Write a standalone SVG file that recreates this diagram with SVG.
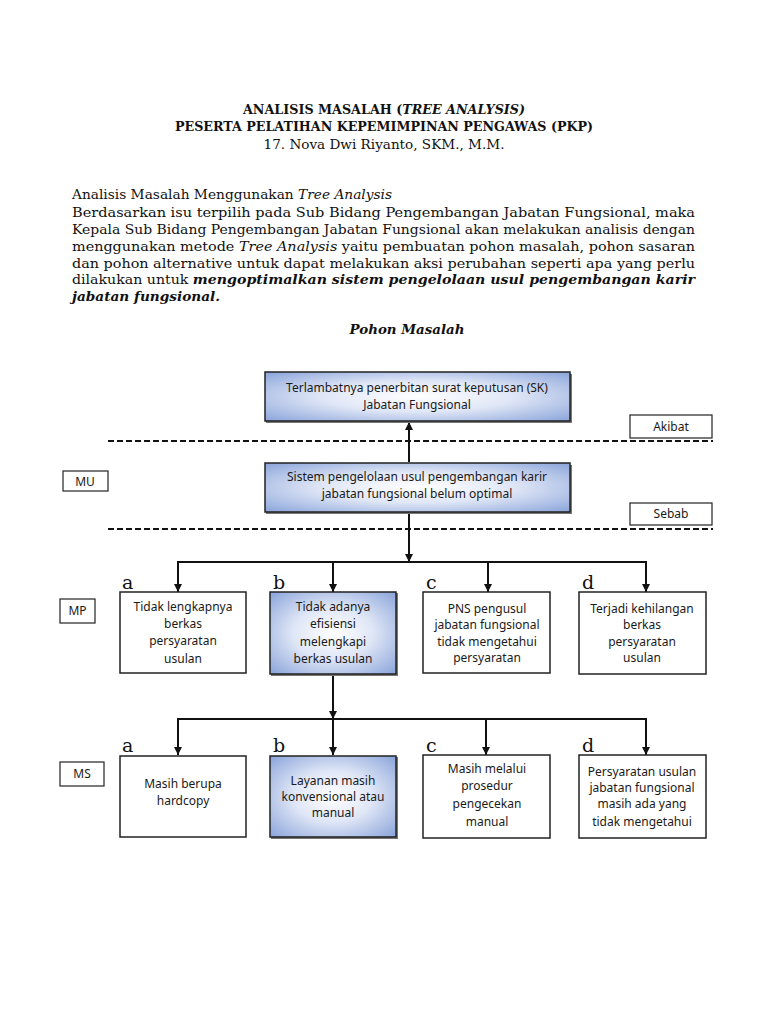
<svg xmlns="http://www.w3.org/2000/svg" width="768" height="1024" viewBox="0 0 768 1024">
<style>
.t{font-family:"DejaVu Serif","Liberation Serif",serif;fill:#111}
.tb{font-weight:bold}
.it{font-style:italic}
.bx{font-family:"Noto Sans","Open Sans",sans-serif;font-size:12px;fill:#1a1a1a;text-anchor:middle}
.lt{font-family:"DejaVu Serif","Liberation Serif",serif;font-size:19px;fill:#111}
.plain{fill:#fff;stroke:#222;stroke-width:1.5}
.grad{fill:url(#g);stroke:#222;stroke-width:1.5}
.sh{fill:#777}
.lab{fill:#fff;stroke:#222;stroke-width:1.2}
.ln{stroke:#111;stroke-width:2;fill:none}
.dash{stroke:#111;stroke-width:2;stroke-dasharray:6 3;fill:none}
</style>
<defs>
<radialGradient id="g" cx="0.5" cy="0.5" r="0.7">
<stop offset="0" stop-color="#ffffff"/>
<stop offset="0.45" stop-color="#dfe6f6"/>
<stop offset="1" stop-color="#8aa4da"/>
</radialGradient>
<marker id="ah" viewBox="0 0 10 10" refX="10" refY="5" markerWidth="4" markerHeight="4" orient="auto" markerUnits="strokeWidth">
<path d="M0,0 L10,5 L0,10 z" fill="#111"/>
</marker>
</defs>
<rect width="768" height="1024" fill="#fff"/>

<g id="header">
<text class="t tb" x="384" y="114" font-size="13" text-anchor="middle" textLength="282" lengthAdjust="spacingAndGlyphs">ANALISIS MASALAH (<tspan class="it">TREE ANALYSIS)</tspan></text>
<text class="t tb" x="384" y="131" font-size="13" text-anchor="middle" textLength="418" lengthAdjust="spacingAndGlyphs">PESERTA PELATIHAN KEPEMIMPINAN PENGAWAS (PKP)</text>
<text class="t" x="384" y="149" font-size="13" text-anchor="middle" textLength="241" lengthAdjust="spacingAndGlyphs">17. Nova Dwi Riyanto, SKM., M.M.</text>
</g>

<g id="body">
<text class="t" x="72" y="199" font-size="13" textLength="320" lengthAdjust="spacingAndGlyphs">Analisis Masalah Menggunakan <tspan class="it">Tree Analysis</tspan></text>
<text class="t" x="72" y="217" font-size="13" textLength="623" lengthAdjust="spacingAndGlyphs">Berdasarkan isu terpilih pada Sub Bidang Pengembangan Jabatan Fungsional, maka</text>
<text class="t" x="72" y="234" font-size="13" textLength="623" lengthAdjust="spacingAndGlyphs">Kepala Sub Bidang Pengembangan Jabatan Fungsional akan melakukan analisis dengan</text>
<text class="t" x="72" y="251" font-size="13" textLength="623" lengthAdjust="spacingAndGlyphs">menggunakan metode <tspan class="it">Tree Analysis</tspan> yaitu pembuatan pohon masalah, pohon sasaran</text>
<text class="t" x="72" y="268" font-size="13" textLength="623" lengthAdjust="spacingAndGlyphs">dan pohon alternative untuk dapat melakukan aksi perubahan seperti apa yang perlu</text>
<text class="t" x="72" y="284" font-size="13" textLength="623" lengthAdjust="spacingAndGlyphs">dilakukan untuk <tspan class="tb it">mengoptimalkan sistem pengelolaan usul pengembangan karir</tspan></text>
<text class="t tb it" x="72" y="301" font-size="13" textLength="148" lengthAdjust="spacingAndGlyphs">jabatan fungsional.</text>
<text class="t tb it" x="407" y="334" font-size="13" text-anchor="middle" textLength="115" lengthAdjust="spacingAndGlyphs">Pohon Masalah</text>
</g>

<g id="connectors">
<line class="dash" x1="108" y1="441" x2="713" y2="441"/>
<line class="dash" x1="108" y1="529" x2="713" y2="529"/>
<line class="ln" x1="409" y1="462" x2="409" y2="422" marker-end="url(#ah)"/>
<line class="ln" x1="409" y1="513" x2="409" y2="562" marker-end="url(#ah)"/>
<polyline class="ln" points="178,592 178,562 646,562 646,592" marker-end="url(#ah)"/>
<line class="ln" x1="178" y1="563" x2="178" y2="592" marker-end="url(#ah)"/>
<line class="ln" x1="333" y1="562" x2="333" y2="592" marker-end="url(#ah)"/>
<line class="ln" x1="488" y1="562" x2="488" y2="592" marker-end="url(#ah)"/>
<line class="ln" x1="333" y1="675" x2="333" y2="719" marker-end="url(#ah)"/>
<polyline class="ln" points="178,755 178,719 646,719 646,755" marker-end="url(#ah)"/>
<line class="ln" x1="178" y1="720" x2="178" y2="755" marker-end="url(#ah)"/>
<line class="ln" x1="333" y1="719" x2="333" y2="755" marker-end="url(#ah)"/>
<line class="ln" x1="486" y1="719" x2="486" y2="755" marker-end="url(#ah)"/>
</g>

<g id="akibat-node">
<rect class="sh" x="266" y="374" width="306" height="49"/>
<rect class="grad" x="265" y="372" width="305" height="49"/>
<text class="bx" x="417" y="392">Terlambatnya penerbitan surat keputusan (SK)</text>
<text class="bx" x="417" y="409">Jabatan Fungsional</text>
</g>

<g id="label-akibat">
<rect class="lab" x="630" y="415" width="82" height="23"/>
<text class="bx" x="671" y="431">Akibat</text>
</g>

<g id="label-mu">
<rect class="lab" x="63" y="471" width="45" height="20"/>
<text class="bx" x="85" y="486">MU</text>
</g>

<g id="mu-node">
<rect class="sh" x="266" y="465" width="306" height="49"/>
<rect class="grad" x="265" y="463" width="305" height="49"/>
<text class="bx" x="417" y="481">Sistem pengelolaan usul pengembangan karir</text>
<text class="bx" x="417" y="498">jabatan fungsional belum optimal</text>
</g>

<g id="label-sebab">
<rect class="lab" x="630" y="503" width="82" height="22"/>
<text class="bx" x="671" y="518">Sebab</text>
</g>

<g id="label-mp">
<rect class="lab" x="60" y="599" width="35" height="24"/>
<text class="bx" x="77.5" y="615">MP</text>
</g>

<g id="letters-mp">
<text class="lt" x="122" y="589">a</text>
<text class="lt" x="273" y="589">b</text>
<text class="lt" x="426" y="589">c</text>
<text class="lt" x="582" y="589">d</text>
</g>

<g id="mp-a">
<rect class="plain" x="120" y="592" width="126" height="81"/>
<text class="bx" x="183" y="611">Tidak lengkapnya</text>
<text class="bx" x="183" y="628">berkas</text>
<text class="bx" x="183" y="645">persyaratan</text>
<text class="bx" x="183" y="663">usulan</text>
</g>

<g id="mp-b">
<rect class="sh" x="271" y="593" width="127" height="83"/>
<rect class="grad" x="270" y="592" width="126" height="82"/>
<text class="bx" x="333" y="611">Tidak adanya</text>
<text class="bx" x="333" y="628">efisiensi</text>
<text class="bx" x="333" y="646">melengkapi</text>
<text class="bx" x="333" y="663">berkas usulan</text>
</g>

<g id="mp-c">
<rect class="plain" x="423" y="592" width="127" height="81"/>
<text class="bx" x="487" y="613">PNS pengusul</text>
<text class="bx" x="487" y="629">jabatan fungsional</text>
<text class="bx" x="487" y="646">tidak mengetahui</text>
<text class="bx" x="487" y="662">persyaratan</text>
</g>

<g id="mp-d">
<rect class="plain" x="579" y="592" width="127" height="82"/>
<text class="bx" x="642" y="613">Terjadi kehilangan</text>
<text class="bx" x="642" y="629">berkas</text>
<text class="bx" x="642" y="646">persyaratan</text>
<text class="bx" x="642" y="662">usulan</text>
</g>

<g id="label-ms">
<rect class="lab" x="60" y="762" width="44" height="24"/>
<text class="bx" x="82" y="778">MS</text>
</g>

<g id="letters-ms">
<text class="lt" x="122" y="752">a</text>
<text class="lt" x="273" y="752">b</text>
<text class="lt" x="426" y="752">c</text>
<text class="lt" x="582" y="752">d</text>
</g>

<g id="ms-a">
<rect class="plain" x="120" y="756" width="126" height="81"/>
<text class="bx" x="183" y="788">Masih berupa</text>
<text class="bx" x="183" y="805">hardcopy</text>
</g>

<g id="ms-b">
<rect class="sh" x="271" y="757" width="127" height="82"/>
<rect class="grad" x="270" y="756" width="126" height="81"/>
<text class="bx" x="333" y="785">Layanan masih</text>
<text class="bx" x="333" y="801">konvensional atau</text>
<text class="bx" x="333" y="817">manual</text>
</g>

<g id="ms-c">
<rect class="plain" x="423" y="755" width="127" height="83"/>
<text class="bx" x="487" y="773">Masih melalui</text>
<text class="bx" x="487" y="790">prosedur</text>
<text class="bx" x="487" y="808">pengecekan</text>
<text class="bx" x="487" y="826">manual</text>
</g>

<g id="ms-d">
<rect class="plain" x="579" y="755" width="127" height="83"/>
<text class="bx" x="642" y="776">Persyaratan usulan</text>
<text class="bx" x="642" y="792">jabatan fungsional</text>
<text class="bx" x="642" y="808">masih ada yang</text>
<text class="bx" x="642" y="826">tidak mengetahui</text>
</g>
</svg>
